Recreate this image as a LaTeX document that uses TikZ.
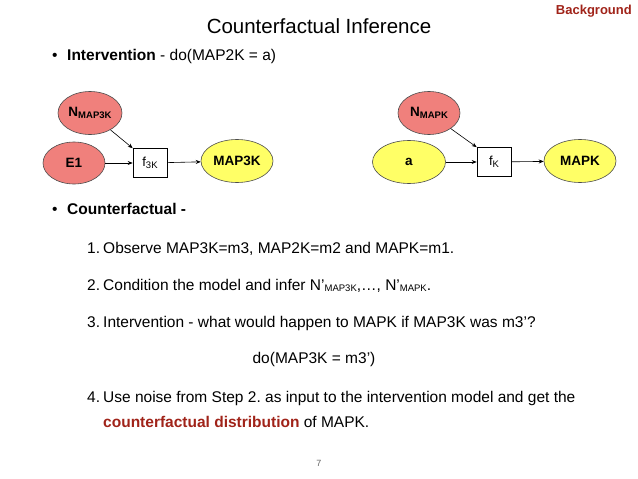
\documentclass[tikz,border=0pt]{standalone}
\usepackage{fontspec}
\setmainfont{Liberation Sans}
\usetikzlibrary{shapes.geometric,arrows.meta}
\definecolor{darkred}{RGB}{160,35,25}
\definecolor{nodered}{RGB}{240,128,124}
\definecolor{nodeyellow}{RGB}{255,255,102}
\frenchspacing
\tikzset{
  txt/.style={inner sep=0pt, anchor=base west, font=\fontsize{15.5}{18}\selectfont},
  ell/.style={ellipse, draw=black!70, line width=0.6pt, inner sep=0pt, font=\fontsize{13.5}{16}\selectfont\bfseries},
  rednode/.style={ell, fill=nodered},
  yelnode/.style={ell, fill=nodeyellow},
  fbox/.style={rectangle, draw=black, line width=0.6pt, fill=white, minimum width=34pt, minimum height=29pt, inner sep=0pt, font=\fontsize{13}{16}\selectfont},
  arr/.style={-{Stealth[length=5pt,width=4pt]}, line width=0.6pt, black}
}
\newcommand{\ssub}[1]{\raisebox{-1.5pt}{\fontsize{9.5}{11}\selectfont #1}}
\begin{document}
\begin{tikzpicture}[x=1pt,y=-1pt]
\useasboundingbox (0,0) rectangle (638,479);
% title and tag
\node[inner sep=0pt, anchor=base, font=\fontsize{20.5}{24}\selectfont] (title) at (319,33) {Counterfactual Inference};
\node[inner sep=0pt, anchor=base east, font=\fontsize{13}{15}\selectfont\bfseries, text=darkred] (tag) at (632,15) {Background};
% bullet 1
\node[txt] (bul1) at (52,60) {•};
\node[txt] (int) at (67,60) {\textbf{Intervention} - do(MAP2K = a)};
% left diagram
\node[rednode, minimum width=64pt, minimum height=43pt] (nl) at (90,113) {N\ssub{MAP3K}};
\node[rednode, minimum width=62pt, minimum height=42pt] (e1) at (74,163) {E1};
\node[fbox] (f3) at (150,163) {f\ssub{3K}};
\node[yelnode, minimum width=72pt, minimum height=43pt] (m3) at (237,161) {MAP3K};
\draw[arr] (nl) -- (f3.north west);
\draw[arr] (e1) -- (f3);
\draw[arr] (f3) -- (m3);
% right diagram
\node[rednode, minimum width=62pt, minimum height=43pt] (nr) at (429,113) {N\ssub{MAPK}};
\node[yelnode, minimum width=73pt, minimum height=43pt] (a) at (409,162) {a};
\node[fbox] (fk) at (494,162) {f\ssub{K}};
\node[yelnode, minimum width=72pt, minimum height=43pt] (mk) at (580,161) {MAPK};
\draw[arr] (nr) -- (fk.north west);
\draw[arr] (a) -- (fk);
\draw[arr] (fk) -- (mk);
% bullet 2
\node[txt] (bul2) at (52,214) {•};
\node[txt] (cf) at (67,214) {\textbf{Counterfactual -}};
% numbered items
\node[txt] (n1) at (87,253) {1.};
\node[txt] (t1) at (103,253) {Observe MAP3K=m3, MAP2K=m2 and MAPK=m1.};
\node[txt] (n2) at (87,290) {2.};
\node[txt] (t2) at (103,290) {Condition the model and infer N’\ssub{MAP3K},…, N’\ssub{MAPK}.};
\node[txt] (n3) at (87,327) {3.};
\node[txt] (t3) at (103,327) {Intervention - what would happen to MAPK if MAP3K was m3’?};
\node[txt, anchor=base] (do) at (314,363) {do(MAP3K = m3’)};
\node[txt] (n4) at (87,402) {4.};
\node[txt] (t4) at (103,402) {Use noise from Step 2. as input to the intervention model and get the};
\node[txt] (t4b) at (103,427) {\textcolor{darkred}{\textbf{counterfactual distribution}} of MAPK.};
% page number
\node[inner sep=0pt, anchor=base, font=\fontsize{9}{10}\selectfont, text=black!60] (pg) at (319,466) {7};
\end{tikzpicture}
\end{document}
